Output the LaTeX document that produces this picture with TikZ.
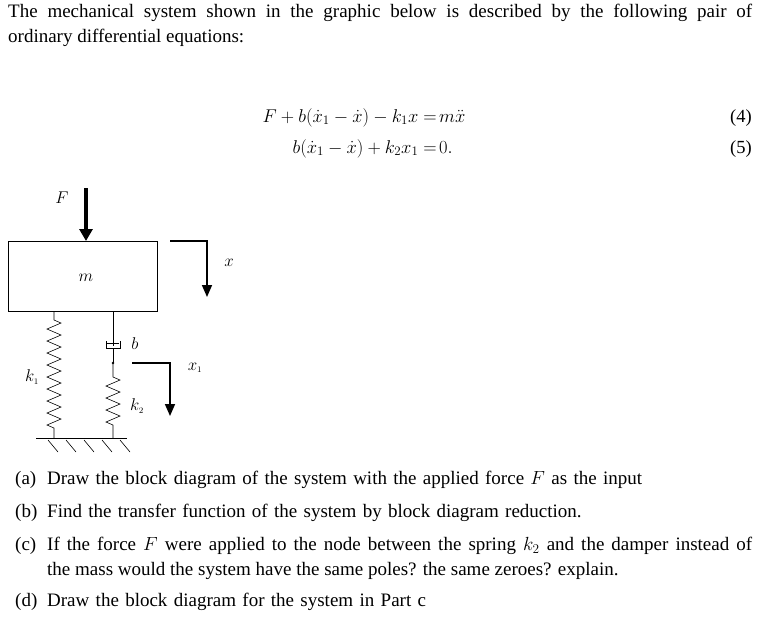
\RequirePackage{fix-cm}
\documentclass[tikz,border=0pt]{standalone}
\usepackage{fontspec}
\setmainfont{Liberation Serif}
\usetikzlibrary{arrows.meta,decorations.pathmorphing,calc}
\begin{document}
\begin{tikzpicture}[x=1pt,y=-1pt,
  txt/.style={anchor=north west,inner sep=0pt,font=\fontsize{19}{24.5}\selectfont,align=justify},
  eq/.style={inner sep=0pt,font=\fontsize{18.5}{20}\selectfont},
  lbl/.style={inner sep=0pt,font=\fontsize{17}{20}\selectfont},
  spring/.style={decorate,decoration={zigzag,segment length=12pt,amplitude=7pt}},
  thin/.style={line width=0.6pt},
  dispArrow/.style={line width=1.6pt,-{Triangle[length=12pt,width=10pt]}}]
\useasboundingbox (0,0) rectangle (776,632);
\node[txt,text width=744pt] (intro) at (8,4) {The mechanical system shown in the graphic below is described by the following pair of\linebreak ordinary differential equations:};
% equations
\node[eq,anchor=base east] (e1l) at (437,122) {$F+b(\dot x_1-\dot x)-k_1x=$};
\node[eq,anchor=base west] (e1r) at (439,122) {$m\ddot x$};
\node[eq,anchor=base east] (e2l) at (437,153) {$b(\dot x_1-\dot x)+k_2x_1=$};
\node[eq,anchor=base west] (e2r) at (439,153) {$0.$};
\node[eq,anchor=base east] (n4) at (752,122) {(4)};
\node[eq,anchor=base east] (n5) at (752,153) {(5)};
% mass
\node[draw,thin,minimum width=149pt,minimum height=70pt,inner sep=0pt,anchor=north west] (m) at (8,241) {};
\node[lbl] (ml) at (86,278) {$m$};
\coordinate (ftop) at (86,188);
\draw[line width=3.5pt,-{Triangle[length=12pt,width=13pt]}] (ftop) -- (86,241);
\node[lbl] (Fl) at (62,198) {$F$};
% x arrow
\coordinate (xa) at (170,241); \coordinate (xb) at (207,241); \coordinate (xc) at (207,297);
\draw[dispArrow] (xa) -- (xb) -- (xc);
\node[lbl] (xl) at (229,263) {$x$};
% ground
\coordinate (g1) at (36,438); \coordinate (g2) at (127,438);
\draw[thin] (g1) -- (g2);
\foreach \i in {0,...,4} \draw[thin] (48+18*\i,440) -- (58+18*\i,452);
% spring k1
\coordinate (s1t) at (54,311); \coordinate (s1b) at (54,438);
\draw[thin,spring,decoration={pre length=9pt,post length=9pt}] (s1t) -- (s1b);
\node[lbl] (k1l) at (32,377) {$k_{\scriptscriptstyle 1}$};
% damper
\coordinate (dt) at (113,311); \coordinate (dn) at (113,363);
\draw[thin] (dt) -- (113,346);
\draw[thin] (107,343) -- (119,343);
\draw[thin] (106,341) -- (106,348) -- (120,348) -- (120,341);
\draw[thin] (113,348) -- (dn);
\fill (dn) circle (1.3pt);
\node[lbl] (bl) at (135,344) {$b$};
% spring k2
\coordinate (s2b) at (113,438);
\draw[thin,spring,decoration={pre length=14pt,post length=9pt}] (dn) -- (s2b);
\node[lbl] (k2l) at (137,406) {$k_{\scriptscriptstyle 2}$};
% x1 arrow
\coordinate (ya) at (132,363); \coordinate (yb) at (170,363); \coordinate (yc) at (170,416);
\draw[dispArrow] (ya) -- (yb) -- (yc);
\node[lbl] (x1l) at (195,368) {$x_{\scriptscriptstyle 1}$};
% questions
\node[txt,anchor=north west] (qa) at (15,471) {(a)};
\node[txt,text width=705pt,align=left] (qat) at (47,471) {Draw the block diagram of the system with the applied force $F$ as the input};
\node[txt,anchor=north west] (qb) at (15,504) {(b)};
\node[txt,text width=705pt,align=left] (qbt) at (47,504) {Find the transfer function of the system by block diagram reduction.};
\node[txt,anchor=north west] (qc) at (15,537) {(c)};
\node[txt,text width=705pt] (qct) at (47,537) {If the force $F$ were applied to the node between the spring $k_2$ and the damper instead of\linebreak the mass would the system have the same poles? the same zeroes? explain.};
\node[txt,anchor=north west] (qd) at (15,593) {(d)};
\node[txt,text width=705pt,align=left] (qdt) at (47,593) {Draw the block diagram for the system in Part c};
\end{tikzpicture}
\end{document}
